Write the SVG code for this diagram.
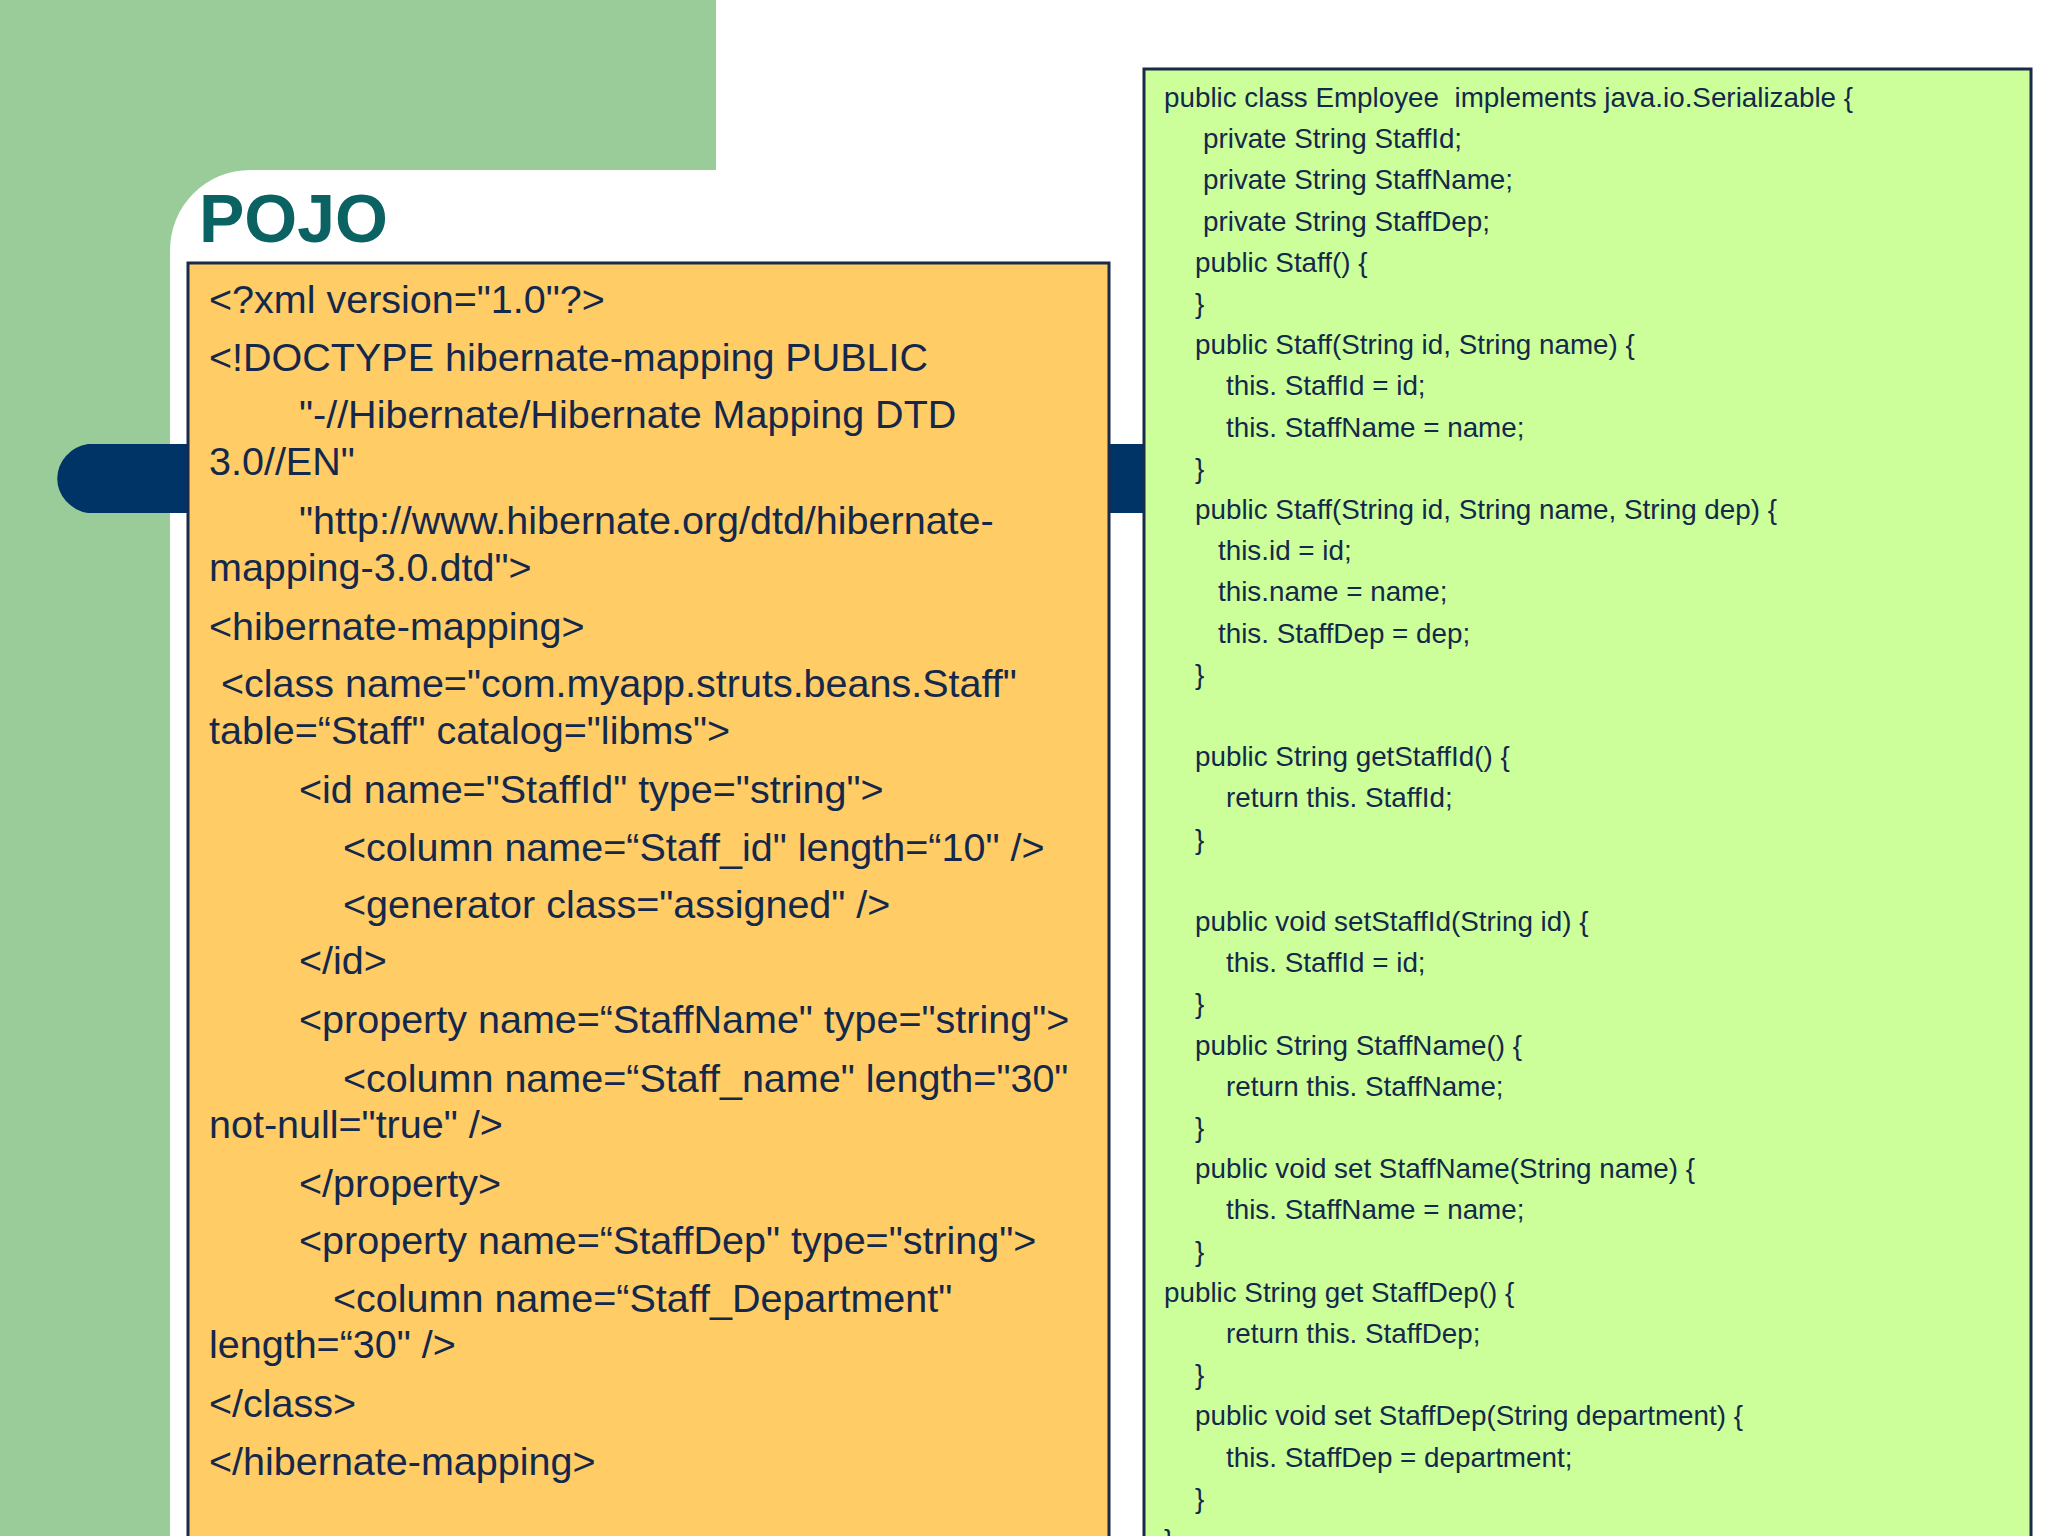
<svg xmlns="http://www.w3.org/2000/svg" width="2048" height="1536" viewBox="0 0 2048 1536">
<style>
.o{font-family:"Liberation Sans",Arial,sans-serif;font-size:39.5px;fill:#14284b}
.g{font-family:"Liberation Sans",Arial,sans-serif;font-size:27.8px;fill:#14284b}
</style>
<rect width="2048" height="1536" fill="#ffffff"/>
<rect x="0" y="0" width="716" height="260" fill="#99cc99"/>
<rect x="0" y="0" width="170" height="1536" fill="#99cc99"/>
<path d="M170 1536 V250 A80 80 0 0 1 250 170 H716 V0 H2048 V1536 Z" fill="#ffffff"/>
<path d="M88 444 H1150 V513 H88 A37 35 0 0 1 88 444 Z" fill="#003366"/>
<text x="199" y="242" font-family="Liberation Sans,Arial,sans-serif" font-weight="bold" font-size="68" fill="#0b6262">POJO</text>
<g id="xml">
<rect x="188" y="263" width="921" height="1300" fill="#ffcc66" stroke="#1a2a4a" stroke-width="3"/>
<text class="o" x="209" y="313">&lt;?xml version="1.0"?&gt;</text>
<text class="o" x="209" y="371">&lt;!DOCTYPE hibernate-mapping PUBLIC</text>
<text class="o" x="299" y="428">"-//Hibernate/Hibernate Mapping DTD</text>
<text class="o" x="209" y="475">3.0//EN"</text>
<text class="o" x="299" y="534">"http://www.hibernate.org/dtd/hibernate-</text>
<text class="o" x="209" y="581">mapping-3.0.dtd"&gt;</text>
<text class="o" x="209" y="640">&lt;hibernate-mapping&gt;</text>
<text class="o" x="221" y="697">&lt;class name="com.myapp.struts.beans.Staff"</text>
<text class="o" x="209" y="744">table=“Staff" catalog="libms"&gt;</text>
<text class="o" x="299" y="803">&lt;id name="StaffId" type="string"&gt;</text>
<text class="o" x="343" y="861">&lt;column name=“Staff_id" length=“10" /&gt;</text>
<text class="o" x="343" y="918">&lt;generator class="assigned" /&gt;</text>
<text class="o" x="299" y="974">&lt;/id&gt;</text>
<text class="o" x="299" y="1033">&lt;property name=“StaffName" type="string"&gt;</text>
<text class="o" x="343" y="1092">&lt;column name=“Staff_name" length="30"</text>
<text class="o" x="209" y="1138">not-null="true" /&gt;</text>
<text class="o" x="299" y="1197">&lt;/property&gt;</text>
<text class="o" x="299" y="1254">&lt;property name=“StaffDep" type="string"&gt;</text>
<text class="o" x="333" y="1312">&lt;column name=“Staff_Department"</text>
<text class="o" x="209" y="1358">length=“30" /&gt;</text>
<text class="o" x="209" y="1417">&lt;/class&gt;</text>
<text class="o" x="209" y="1475">&lt;/hibernate-mapping&gt;</text>
</g>
<g id="java">
<rect x="1144" y="69" width="887" height="1500" fill="#ccff99" stroke="#1a2a4a" stroke-width="3"/>
<text class="g" x="1164" y="107" xml:space="preserve">public class Employee  implements java.io.Serializable {</text>
<text class="g" x="1203" y="148">private String StaffId;</text>
<text class="g" x="1203" y="189">private String StaffName;</text>
<text class="g" x="1203" y="231">private String StaffDep;</text>
<text class="g" x="1195" y="272">public Staff() {</text>
<text class="g" x="1195" y="313">}</text>
<text class="g" x="1195" y="354">public Staff(String id, String name) {</text>
<text class="g" x="1226" y="395">this. StaffId = id;</text>
<text class="g" x="1226" y="437">this. StaffName = name;</text>
<text class="g" x="1195" y="478">}</text>
<text class="g" x="1195" y="519">public Staff(String id, String name, String dep) {</text>
<text class="g" x="1218" y="560">this.id = id;</text>
<text class="g" x="1218" y="601">this.name = name;</text>
<text class="g" x="1218" y="643">this. StaffDep = dep;</text>
<text class="g" x="1195" y="684">}</text>
<text class="g" x="1195" y="766">public String getStaffId() {</text>
<text class="g" x="1226" y="807">return this. StaffId;</text>
<text class="g" x="1195" y="849">}</text>
<text class="g" x="1195" y="931">public void setStaffId(String id) {</text>
<text class="g" x="1226" y="972">this. StaffId = id;</text>
<text class="g" x="1195" y="1013">}</text>
<text class="g" x="1195" y="1055">public String StaffName() {</text>
<text class="g" x="1226" y="1096">return this. StaffName;</text>
<text class="g" x="1195" y="1137">}</text>
<text class="g" x="1195" y="1178">public void set StaffName(String name) {</text>
<text class="g" x="1226" y="1219">this. StaffName = name;</text>
<text class="g" x="1195" y="1261">}</text>
<text class="g" x="1164" y="1302">public String get StaffDep() {</text>
<text class="g" x="1226" y="1343">return this. StaffDep;</text>
<text class="g" x="1195" y="1384">}</text>
<text class="g" x="1195" y="1425">public void set StaffDep(String department) {</text>
<text class="g" x="1226" y="1467">this. StaffDep = department;</text>
<text class="g" x="1195" y="1508">}</text>
<text class="g" x="1164" y="1549">}</text>
</g>
</svg>
